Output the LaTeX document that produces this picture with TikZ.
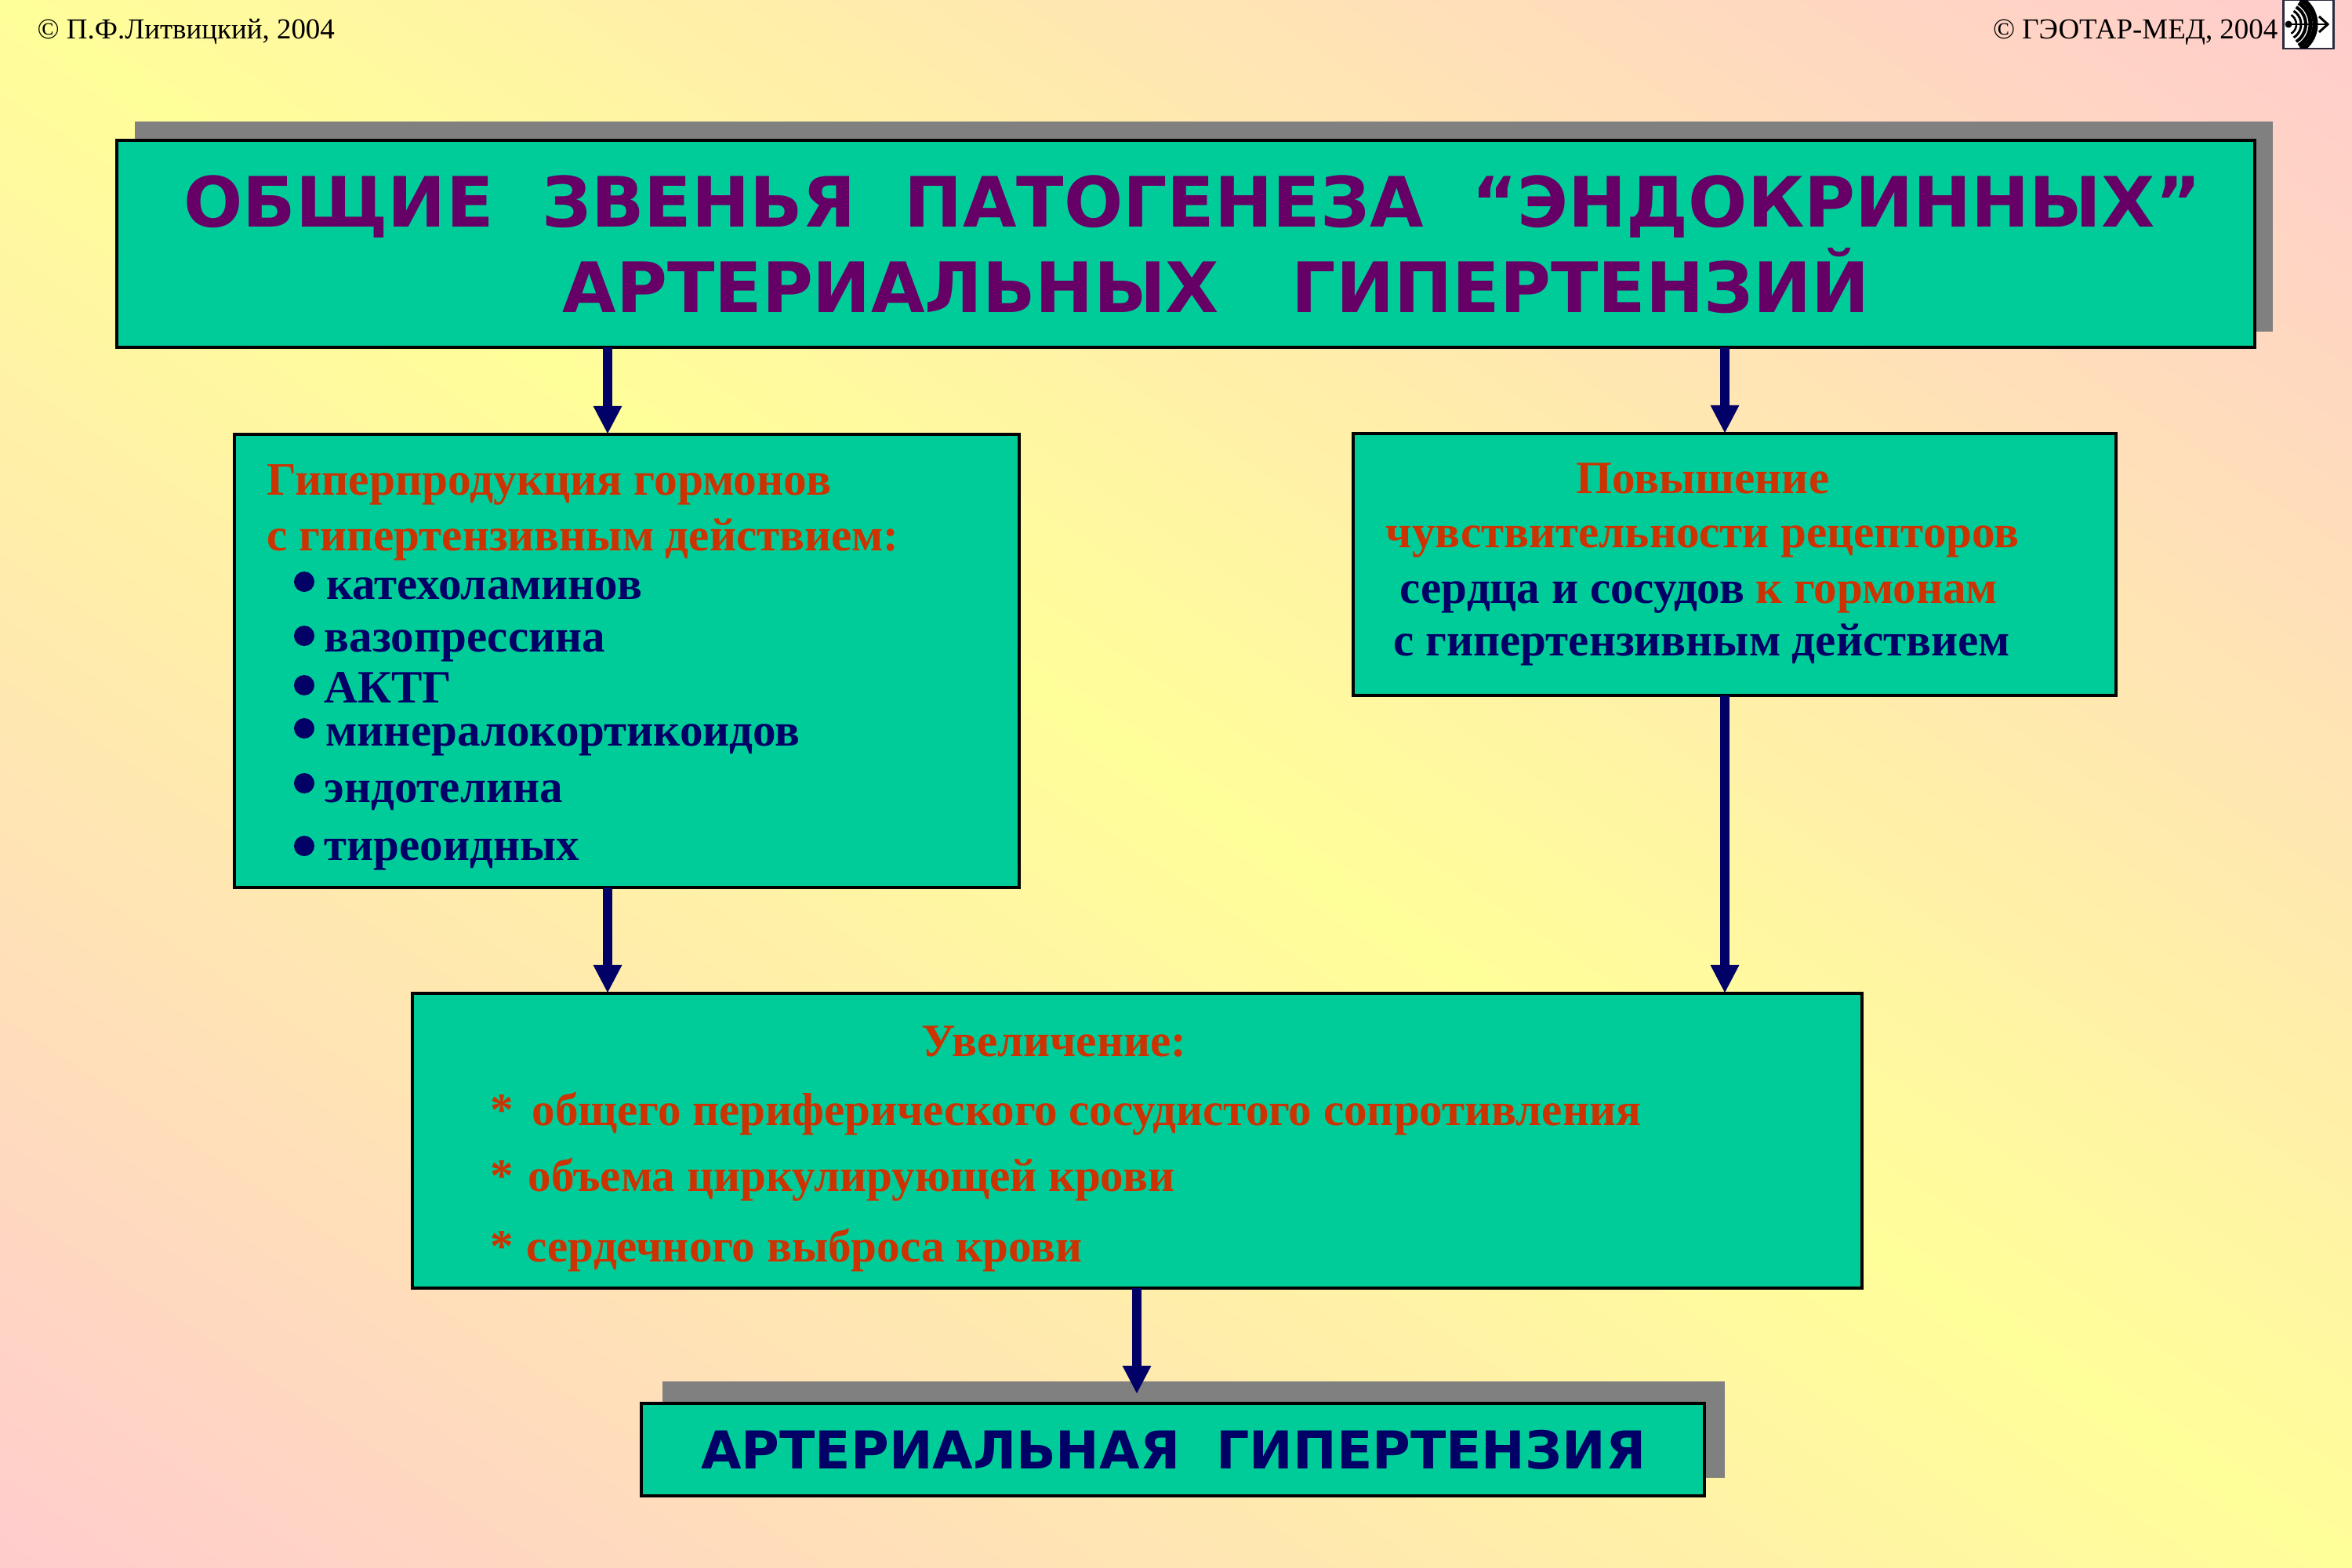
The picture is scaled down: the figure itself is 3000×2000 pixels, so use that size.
\documentclass[tikz,border=0pt]{standalone}
\usepackage{fontspec}
\setmainfont{Liberation Serif}
\newfontfamily\dejavu{DejaVu Sans}
\usetikzlibrary{arrows.meta}
\definecolor{teal1}{HTML}{00CC99}
\definecolor{red1}{HTML}{CC3300}
\definecolor{navy1}{HTML}{000066}
\definecolor{purple1}{HTML}{660066}
\definecolor{shadow1}{HTML}{808080}
\definecolor{bgyellow}{HTML}{FFFF99}
\definecolor{bgpink}{HTML}{FFCCCC}
\definecolor{logoedge}{HTML}{2B2B40}
\tikzset{
  x=0.01cm,y=-0.01cm,
  box/.style={draw=black,line width=0.04cm,fill=teal1,inner sep=0pt,outer sep=0pt},
  flow/.style={draw=navy1,line width=0.12cm,-{Triangle[length=0.36cm,width=0.34cm]}},
  ln/.style={anchor=base west,inner sep=0pt,yshift=0.012cm,font=\fontsize{16.8pt}{20pt}\selectfont\bfseries},
  redln/.style={ln,text=red1},
  navyln/.style={ln,text=navy1},
  head/.style={anchor=base,inner sep=0pt,font=\dejavu\fontsize{25.2pt}{30pt}\selectfont\bfseries,text=purple1},
  dot/.style={circle,fill=navy1,inner sep=0pt,minimum size=0.26cm},
  copyr/.style={inner sep=0pt,font=\fontsize{10.5pt}{12pt}\selectfont,text=black},
}
\begin{document}
\begin{tikzpicture}
\useasboundingbox (0,0) rectangle (3000,2000);
\begin{scope}
\clip (0,0) rectangle (3000,2000);
\fill[bgpink] (0,0) rectangle (3000,2000);
\foreach \i in {50,49,...,1}{
  \pgfmathsetmacro{\cc}{39.2157*\i}
  \pgfmathsetmacro{\mixp}{100-1.96078*\i}
  \fill[bgyellow!\mixp!bgpink] (0,-\cc) -- (3000,2000-\cc) -- (3000,2000+\cc) -- (0,\cc) -- cycle;
}
\fill[bgyellow] (0,-20) -- (3000,1980) -- (3000,2020) -- (0,20) -- cycle;
\end{scope}

\node[copyr,anchor=base west] (cl) at (47,50) {© П.Ф.Литвицкий, 2004};
\node[copyr,anchor=base east] (cr) at (2906,50) {© ГЭОТАР-МЕД, 2004};
\node[draw=logoedge,fill=white,line width=0.025cm,minimum width=0.64cm,minimum height=0.62cm,inner sep=0pt] (logo) at (2944.5,31) {};
\begin{scope}
\clip (2912,0) rectangle (2977,62);
\foreach \r/\w in {38/0.07,32/0.05,26/0.04,20/0.03,14/0.025}{
  \draw[black,line width=\w cm] (2915,31) ++(-58:\r) arc[start angle=-58,end angle=58,radius=\r];
}
\end{scope}
\fill[black] (2919,31) circle (4.5);
\draw[black,line width=0.025cm] (2919,31) -- (2968,31);
\draw[black,line width=0.03cm] (2958,21) -- (2969,31) -- (2958,41);

\fill[shadow1] (172,155) rectangle (2899,423);
\fill[shadow1] (845,1762) rectangle (2200,1885);

\node[box,minimum width=27.25cm,minimum height=2.64cm] (title) at (1512.5,311) {};
\node[box,minimum width=10.01cm,minimum height=5.78cm] (hyper) at (799.5,843) {};
\node[box,minimum width=9.73cm,minimum height=3.34cm] (recep) at (2212.5,720) {};
\node[box,minimum width=18.47cm,minimum height=3.76cm] (incr) at (1450.5,1455) {};
\node[box,minimum width=13.56cm,minimum height=1.18cm] (result) at (1496,1849) {};

\coordinate (cA) at (775,0);
\coordinate (cB) at (2200,0);
\coordinate (cC) at (1450,0);
\coordinate (cD) at (1450,1778);
\draw[flow] (title.south -| cA) -- (hyper.north -| cA);
\draw[flow] (title.south -| cB) -- (recep.north -| cB);
\draw[flow] (hyper.south -| cA) -- (incr.north -| cA);
\draw[flow] (recep.south -| cB) -- (incr.north -| cB);
\draw[flow] (incr.south -| cC) -- (cD);

\node[head] (t1) at (1521,289) {ОБЩИЕ\ \ ЗВЕНЬЯ\ \ ПАТОГЕНЕЗА\ \ “ЭНДОКРИННЫХ”};
\node[head] (t2) at (1551,398) {АРТЕРИАЛЬНЫХ\ \ \ ГИПЕРТЕНЗИЙ};

\node[redln,font=\fontsize{16.9pt}{20pt}\selectfont\bfseries] (h1) at (340,633) {Гиперпродукция гормонов};
\node[redln] (h2) at (340,704) {с гипертензивным действием:};
\node[navyln] (i1) at (416,766) {катехоламинов};
\node[navyln] (i2) at (413,833) {вазопрессина};
\node[navyln] (i3) at (413,898) {АКТГ};
\node[navyln] (i4) at (415,953) {минералокортикоидов};
\node[navyln] (i5) at (413,1025) {эндотелина};
\node[navyln] (i6) at (413,1099) {тиреоидных};
\node[dot] (d1) at (388,742) {};
\node[dot] (d2) at (388,811) {};
\node[dot] (d3) at (388,874) {};
\node[dot] (d4) at (388,929) {};
\node[dot] (d5) at (388,999) {};
\node[dot] (d6) at (388,1079) {};

\node[redln] (r1) at (2010,631) {Повышение};
\node[redln] (r2) at (1767,700) {чувствительности рецепторов};
\node[navyln] (r3) at (1785,771) {сердца и сосудов \textcolor{red1}{к гормонам}};
\node[navyln] (r4) at (1777,838) {с гипертензивным действием};

\node[redln] (u0) at (1175,1349) {Увеличение:};
\node[redln] (u1) at (625,1437) {*};
\node[redln] (u2) at (678,1437) {общего периферического сосудистого сопротивления};
\node[redln] (u3) at (625,1521) {*};
\node[redln] (u4) at (673,1521) {объема циркулирующей крови};
\node[redln] (u5) at (625,1611) {*};
\node[redln] (u6) at (671,1611) {сердечного выброса крови};

\node[head,font=\dejavu\fontsize{18.9pt}{23pt}\selectfont\bfseries,text=navy1] (rt) at (1497,1873) {АРТЕРИАЛЬНАЯ\ \ ГИПЕРТЕНЗИЯ};
\end{tikzpicture}
\end{document}
